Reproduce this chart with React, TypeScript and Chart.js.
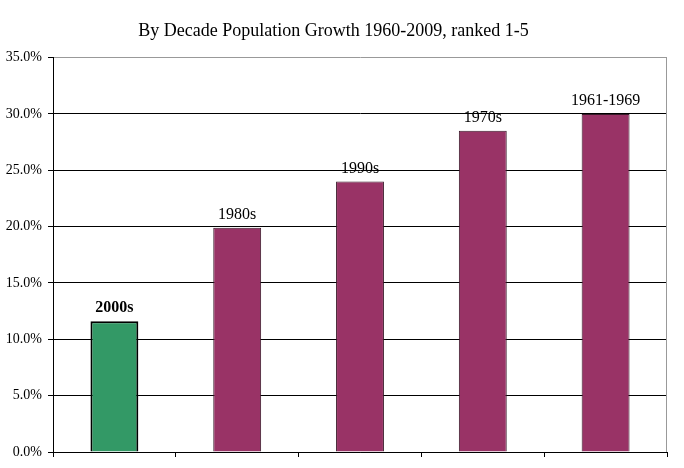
import { useEffect, useRef } from "react";
import { Chart, registerables } from "chart.js";

Chart.register(...registerables);

const decades = ["2000s", "1980s", "1990s", "1970s", "1961-1969"];
const growth = [11.6, 19.9, 24.0, 28.5, 30.0];
const barColors = ["#339966", "#993366", "#993366", "#993366", "#993366"];
const yTicks = [0, 5, 10, 15, 20, 25, 30, 35];

const serif = "'Liberation Serif', 'Times New Roman', serif";

// labels above bars, plus the grey plot-area border on the right
const barLabels = {
  id: "barLabels",
  afterDatasetsDraw(chart: Chart) {
    const { ctx, chartArea } = chart;
    const meta = chart.getDatasetMeta(0);
    ctx.save();
    ctx.textAlign = "center";
    ctx.textBaseline = "bottom";
    ctx.fillStyle = "#000";
    meta.data.forEach((bar: any, i: number) => {
      ctx.font = (i === 0 ? "bold " : "") + "16px " + serif;
      ctx.fillText(decades[i], bar.x, bar.y - 5);
    });
    ctx.strokeStyle = "#999";
    ctx.lineWidth = 1;
    ctx.beginPath();
    ctx.moveTo(chartArea.right - 0.5, chartArea.top);
    ctx.lineTo(chartArea.right - 0.5, chartArea.bottom);
    ctx.stroke();
    ctx.restore();
  },
};

export default function App() {
  const chartRef = useRef<HTMLCanvasElement>(null);
  const chartInstance = useRef<Chart | null>(null);

  useEffect(() => {
    document.body.style.margin = "0";
    if (!chartRef.current) return;
    if (chartInstance.current) chartInstance.current.destroy();
    const ctx = chartRef.current.getContext("2d");
    if (!ctx) return;

    chartInstance.current = new Chart(ctx, {
      type: "bar",
      data: {
        labels: decades,
        datasets: [
          {
            data: growth,
            backgroundColor: barColors,
            borderColor: barColors.map((c, i) => (i === 0 ? "#000" : "#3a1a2a")),
            borderWidth: barColors.map((c, i) => (i === 0 ? 2 : 1)),
            barPercentage: 0.39,
            categoryPercentage: 1,
          },
        ],
      },
      options: {
        responsive: false,
        animation: false,
        layout: { padding: { top: 0, right: 17, bottom: 0, left: 0 } },
        plugins: {
          legend: { display: false },
          tooltip: { enabled: false },
          title: {
            display: true,
            text: "By Decade Population Growth 1960-2009, ranked 1-5",
            color: "#000",
            font: { family: serif, size: 18, weight: "normal" },
            padding: { top: 20, bottom: 16 },
          },
        },
        scales: {
          x: {
            grid: {
              display: true,
              drawOnChartArea: false,
              drawTicks: true,
              tickLength: 5,
              color: "#000",
              offset: true,
            },
            border: { color: "#000" },
            ticks: { display: false },
            afterFit: (scale: any) => {
              scale.height = 16;
            },
          },
          y: {
            min: 0,
            max: 35,
            afterBuildTicks: (scale: any) => {
              scale.ticks = yTicks.map((v) => ({ value: v }));
            },
            grid: {
              color: (c: any) => (c.tick && c.tick.value === 35 ? "#999" : "#000"),
              tickColor: "#000",
              tickLength: 5,
            },
            border: { color: "#000" },
            ticks: {
              color: "#000",
              padding: 6,
              font: { family: serif, size: 14 },
              callback: (v: any) => Number(v).toFixed(1) + "%",
            },
            afterFit: (scale: any) => {
              scale.width = 53;
            },
          },
        },
      },
      plugins: [barLabels],
    });

    return () => {
      if (chartInstance.current) {
        chartInstance.current.destroy();
        chartInstance.current = null;
      }
    };
  }, []);

  return (
    <div style={{ width: 684, height: 468, background: "#fff" }}>
      <canvas ref={chartRef} width={684} height={468} />
    </div>
  );
}
